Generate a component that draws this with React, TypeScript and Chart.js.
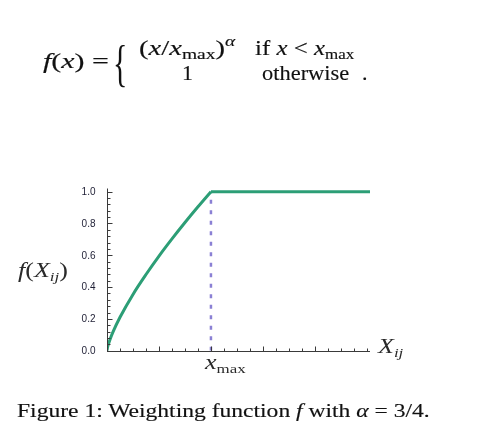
import React, { useEffect, useRef } from "react";
import { Chart, registerables } from "chart.js";

Chart.register(...registerables);

// ---- data ----
const curveX = [0, 0.005, 0.015, 0.03, 0.06, 0.125, 0.25, 0.375, 0.5, 0.625, 0.75, 0.875, 1.0];
const curveY = [0, 0.02, 0.043, 0.072, 0.121, 0.21, 0.354, 0.479, 0.595, 0.703, 0.806, 0.905, 1.0];
const plateauX = [1.0, 2.53];
const plateauY = [1.0, 1.0];
const xMaxValue = 1.0;
const xAxisEnd = 2.53;
const yAxisTop = 1.02;
const yTickValues = [0, 0.2, 0.4, 0.6, 0.8, 1.0];
const yTickLabels = ["0.0", "0.2", "0.4", "0.6", "0.8", "1.0"];
const yMinorTicks = [0.04, 0.08, 0.12, 0.16, 0.24, 0.28, 0.32, 0.36, 0.44, 0.48, 0.52, 0.56, 0.64, 0.68, 0.72, 0.76, 0.84, 0.88, 0.92, 0.96];
const xMajorTicks = [0.5, 1.0, 1.5, 2.0];
const xMinorTicks = [0.125, 0.25, 0.375, 0.625, 0.75, 0.875, 1.125, 1.25, 1.375, 1.625, 1.75, 1.875, 2.125, 2.25, 2.375, 2.5];

const GREEN = "#2c9e76";
const PURPLE = "#8a80d4";
const AXIS = "#3a3a3a";

function drawRuns(ctx: CanvasRenderingContext2D, x: number, y: number, sx: number, runs: [string, string, number][]) {
  ctx.save();
  ctx.translate(x, y);
  ctx.scale(sx, 1);
  let cx = 0;
  for (const [text, font, dy] of runs) {
    ctx.font = font;
    ctx.fillText(text, cx, dy);
    cx += ctx.measureText(text).width;
  }
  ctx.restore();
}

const axesPlugin = {
  id: "axesPlugin",
  afterDatasetsDraw(chart: any) {
    const { ctx } = chart;
    const xs = chart.scales.x;
    const ys = chart.scales.y;
    const x0 = Math.round(xs.getPixelForValue(0)) + 0.5;
    const y0 = Math.round(ys.getPixelForValue(0)) + 0.5;
    ctx.save();
    ctx.strokeStyle = AXIS;
    ctx.lineWidth = 1;
    ctx.beginPath();
    ctx.moveTo(x0, y0);
    ctx.lineTo(x0, ys.getPixelForValue(yAxisTop));
    ctx.moveTo(x0 - 0.5, y0);
    ctx.lineTo(xs.getPixelForValue(xAxisEnd), y0);
    for (const v of yTickValues) {
      const py = Math.round(ys.getPixelForValue(v)) + 0.5;
      ctx.moveTo(x0, py);
      ctx.lineTo(x0 + 5, py);
    }
    for (const v of yMinorTicks) {
      const py = Math.round(ys.getPixelForValue(v)) + 0.5;
      ctx.moveTo(x0, py);
      ctx.lineTo(x0 + 3, py);
    }
    for (const v of xMajorTicks) {
      const px = Math.round(xs.getPixelForValue(v)) + 0.5;
      ctx.moveTo(px, y0);
      ctx.lineTo(px, y0 - 5);
    }
    for (const v of xMinorTicks) {
      const px = Math.round(xs.getPixelForValue(v)) + 0.5;
      ctx.moveTo(px, y0);
      ctx.lineTo(px, y0 - 3);
    }
    ctx.stroke();

    // y tick labels
    ctx.fillStyle = "#1e1e34";
    ctx.font = "10px 'Liberation Sans'";
    ctx.textAlign = "right";
    ctx.textBaseline = "middle";
    yTickValues.forEach((v, i) => {
      ctx.fillText(yTickLabels[i], x0 - 12, ys.getPixelForValue(v) + 0.5);
    });

    // axis labels
    ctx.textAlign = "left";
    ctx.textBaseline = "alphabetic";
    ctx.fillStyle = "#2a2a2a";
    const it = "italic 20px 'Liberation Serif'";
    const itSub = "italic 13px 'Liberation Serif'";
    const rm = "20px 'Liberation Serif'";
    const rmSub = "13px 'Liberation Serif'";
    drawRuns(ctx, 18, 277, 1.3, [["f", it, 0], ["(", rm, 0], ["X", it, 0], ["ij", itSub, 4], [")", rm, 0]]);
    const xm = xs.getPixelForValue(xMaxValue);
    drawRuns(ctx, xm - 6, 369, 1.3, [["x", it, 0], ["max", rmSub, 4]]);
    drawRuns(ctx, xs.getPixelForValue(xAxisEnd) + 8, 353, 1.3, [["X", it, 0], ["ij", itSub, 4]]);
    ctx.restore();
  },
};

export default function App() {
  const ref = useRef<HTMLCanvasElement>(null);
  useEffect(() => {
    if (!ref.current) return;
    const chart = new Chart(ref.current, {
      type: "line",
      data: {
        datasets: [
          {
            data: curveX.map((x, i) => ({ x, y: curveY[i] })),
            borderColor: GREEN,
            borderWidth: 3,
            pointRadius: 0,
            cubicInterpolationMode: "monotone",
            fill: false,
          },
          {
            data: plateauX.map((x, i) => ({ x, y: plateauY[i] })),
            borderColor: GREEN,
            borderWidth: 3,
            pointRadius: 0,
            fill: false,
          },
          {
            data: [
              { x: xMaxValue, y: 0 },
              { x: xMaxValue, y: 1.0 },
            ],
            borderColor: PURPLE,
            borderWidth: 2.5,
            borderDash: [4, 6.5],
            pointRadius: 0,
            fill: false,
          },
        ],
      },
      options: {
        responsive: false,
        animation: false,
        devicePixelRatio: 1,
        layout: { padding: { left: 107, right: 108, top: 188.5, bottom: 90.3 } },
        plugins: { legend: { display: false }, tooltip: { enabled: false } },
        scales: {
          x: { type: "linear", min: 0, max: xAxisEnd, display: false },
          y: { type: "linear", min: 0, max: yAxisTop, display: false },
        },
        elements: { line: { borderCapStyle: "butt", borderJoinStyle: "miter" } },
      },
      plugins: [axesPlugin],
    } as any);
    return () => chart.destroy();
  }, []);

  const serif = "'Liberation Serif', 'Times New Roman', serif";
  const piece = (left: number, baseline: number, size: number, sx = 1, extra: any = {}) => ({
    position: "absolute" as const,
    left,
    top: baseline - size * 0.8375,
    fontSize: size,
    lineHeight: `${size}px`,
    fontFamily: serif,
    color: "#111",
    whiteSpace: "nowrap" as const,
    transform: `scaleX(${sx})`,
    transformOrigin: "left",
    WebkitTextStroke: "0.15px #111",
    ...extra,
  });
  const sub: any = { fontSize: 15, position: "relative", top: 4 };
  const sup: any = { fontSize: 15, position: "relative", top: -9 };

  return (
    <div style={{ position: "absolute", left: 0, top: 0, width: 478, height: 441, background: "#fff", overflow: "hidden" }}>
      <canvas ref={ref} width={478} height={441} style={{ display: "block", position: "absolute", left: 0, top: 0 }} />
      <div style={piece(43, 68, 22, 1.36)}>
        <i>f</i>(<i>x</i>) =
      </div>
      <div style={piece(113, 80, 50, 0.6, { WebkitTextStroke: "0px" })}>{"{"}</div>
      <div style={piece(139, 55.5, 22, 1.3)}>
        (<i>x</i>/<i>x</i>
        <span style={sub}>max</span>)<span style={sup}><i>α</i></span>
      </div>
      <div style={piece(255, 55.5, 22, 1.13)}>
        if <i>x</i> &lt; <i>x</i>
        <span style={sub}>max</span>
      </div>
      <div style={piece(182, 80, 22)}>1</div>
      <div style={piece(262, 80, 22, 1.02)}>otherwise</div>
      <div style={piece(362, 80, 22)}>.</div>
      <div style={piece(17, 417, 19, 1.24)}>
        Figure 1: Weighting function <i>f</i> with <i>α</i> = 3/4.
      </div>
    </div>
  );
}
